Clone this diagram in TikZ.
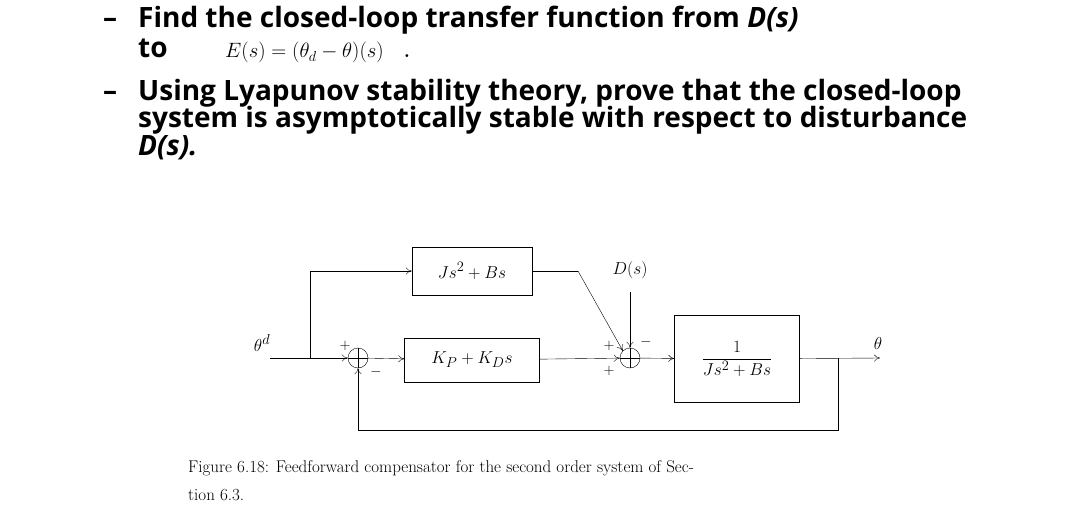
\documentclass[tikz,border=0pt]{standalone}
\usepackage{fontspec}
\newfontfamily\hd{Open Sans}
\usetikzlibrary{arrows.meta}
\begin{document}
\begin{tikzpicture}[x=1pt,y=-1pt,
  blk/.style={draw,thin,minimum width=#1,inner sep=0pt,font=\fontsize{19}{22}\selectfont},
  sumc/.style={draw,circle,minimum size=20pt,inner sep=0pt,path picture={\draw (path picture bounding box.north)--(path picture bounding box.south) (path picture bounding box.west)--(path picture bounding box.east);}},
  ar/.style={-{To[length=6pt,width=7pt]}},
  hdtext/.style={anchor=base west,inner sep=0pt,font=\hd\bfseries\fontsize{28}{30}\selectfont},
  sg/.style={font=\fontsize{15}{15}\selectfont,inner sep=0pt},
  lbl/.style={font=\fontsize{19}{22}\selectfont,inner sep=0pt}]
\useasboundingbox (0,0) rectangle (1089,516);
% heading
\node[hdtext] (d1) at (103,28) {–};
\node[hdtext] (l1) at (138,28) {Find the closed-loop transfer function from \textit{D(s)}};
\node[hdtext] (l2) at (138,58) {to};
\node[anchor=base west,inner sep=0pt,font=\fontsize{20}{22}\selectfont] (eq) at (225,58) {$E(s)=(\theta_{d}-\theta)(s)$\quad\textbf{.}};
\node[hdtext] (d2) at (103,101) {–};
\node[hdtext] (l3) at (138,101) {Using Lyapunov stability theory, prove that the closed-loop};
\node[hdtext] (l4) at (138,128) {system is asymptotically stable with respect to disturbance};
\node[hdtext] (l5) at (138,155) {\textit{D(s).}};
% diagram
\node[blk=120pt,minimum height=48pt] (b1) at (472,271) {$Js^2+Bs$};
\node[blk=135pt,minimum height=44pt] (b2) at (472,360) {$K_P+K_Ds$};
\node[blk=125pt,minimum height=87pt] (b3) at (737,359) {$\displaystyle\frac{1}{Js^2+Bs}$};
\node[sumc] (s1) at (358,358) {};
\node[sumc] (s2) at (630,358) {};
\node[lbl] (td) at (262,343) {$\theta^d$};
\node[lbl] (ds) at (630,270) {$D(s)$};
\node[lbl] (th) at (878,343) {$\theta$};
\coordinate (in) at (270,358);
\coordinate (br) at (310,358);
\coordinate (kk) at (578,271);
\coordinate (dt) at (630,292);
\coordinate (ob) at (838,358);
\coordinate (out) at (880,358);
\draw (in)--(br);
\draw[ar] (br)--(s1);
\draw[ar] (br)--(br|-b1)--(b1);
\draw[ar] (s1)--(b2);
\draw[ar] (b2)--(s2);
\draw (b1.east)--(kk);
\draw[ar] (kk)--(s2.north west);
\draw[ar] (dt)--(s2);
\draw[ar] (s2)--(b3);
\draw[ar] (b3)--(out);
\draw[ar] (ob)--(838,430)--(358,430)--(s1);
\node[sg] at (345,346) {$+$};
\node[sg] at (376,372) {$-$};
\node[sg] at (609,346) {$+$};
\node[sg] at (609,371) {$+$};
\node[sg] at (646,342) {$-$};
% caption
\node[anchor=base west,inner sep=0pt,font=\fontsize{17}{20}\selectfont] (c1) at (188,472) {Figure 6.18: Feedforward compensator for the second order system of Sec-};
\node[anchor=base west,inner sep=0pt,font=\fontsize{17}{20}\selectfont] (c2) at (188,500) {tion 6.3.};
\end{tikzpicture}
\end{document}
